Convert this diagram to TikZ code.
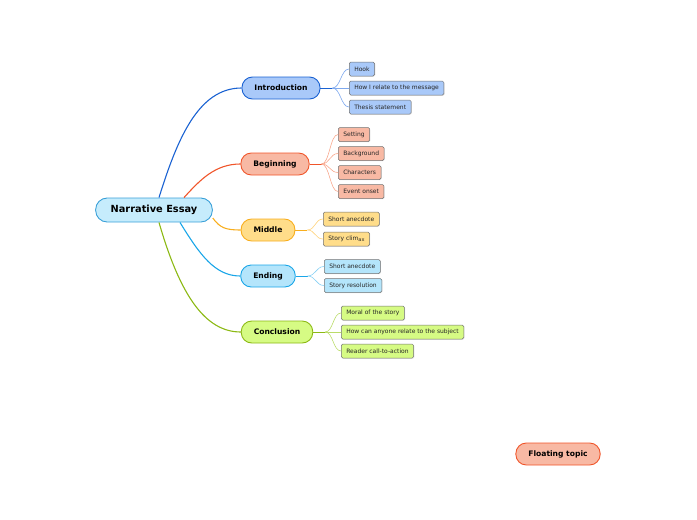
\documentclass[tikz,border=0pt]{standalone}
\usepackage{fontspec}
\setmainfont{DejaVu Sans}
\usetikzlibrary{shadows}
\definecolor{rootfill}{HTML}{C6ECFC}
\definecolor{rootline}{HTML}{3AA0D8}
\definecolor{introfill}{HTML}{A9C9F9}
\definecolor{introline}{HTML}{1A62D2}
\definecolor{introleaf}{HTML}{7FA9EE}
\definecolor{begfill}{HTML}{F8B9A4}
\definecolor{begline}{HTML}{F0552A}
\definecolor{begleaf}{HTML}{F8A88E}
\definecolor{midfill}{HTML}{FFDD8A}
\definecolor{midline}{HTML}{F8AE1E}
\definecolor{midleaf}{HTML}{FFD27A}
\definecolor{endfill}{HTML}{B4E5FB}
\definecolor{endline}{HTML}{1AA6E8}
\definecolor{endleaf}{HTML}{86D0F4}
\definecolor{confill}{HTML}{D6FB84}
\definecolor{conline}{HTML}{8CB914}
\definecolor{conleaf}{HTML}{BBDC6A}
\begin{document}
\begin{tikzpicture}[x=1pt,y=-1pt,
    topic/.style={draw, line width=0.9pt, rounded corners=10.5pt, minimum height=22pt,
        inner xsep=12.5pt, font=\bfseries\fontsize{7.6}{8}\selectfont},
    leaf/.style={draw=black!55, line width=0.5pt, rounded corners=1.5pt, minimum height=14pt,
        inner xsep=5pt, inner ysep=0pt, anchor=west, text=black!85,
        font=\fontsize{6}{6.5}\selectfont,
        drop shadow={shadow xshift=0.7pt, shadow yshift=-0.7pt, opacity=0.25}},
    branch/.style={line width=1.1pt},
    twig/.style={line width=0.6pt}]
            \useasboundingbox (0,0) rectangle (697,520);
            % Hauptthema
            \node[topic, draw=rootline, fill=rootfill, rounded corners=11.5pt, minimum height=24pt,
                inner xsep=15pt, font=\bfseries\fontsize{9.8}{10}\selectfont] (essay) at (154,210) {Narrative Essay};
            % Introduction
            \node[topic, draw=introline, fill=introfill] (intro) at (281,88) {Introduction};
            \node[leaf, fill=introfill] (hook) at (349,69) {Hook};
            \node[leaf, fill=introfill] (relate) at (349,88) {How I relate to the message};
            \node[leaf, fill=introfill] (thesis) at (349,107) {Thesis statement};
            % Beginning
            \node[topic, draw=begline, fill=begfill] (begin) at (275,164) {Beginning};
            \node[leaf, fill=begfill] (setting) at (338,134.5) {Setting};
            \node[leaf, fill=begfill] (backgr) at (338,153.5) {Background};
            \node[leaf, fill=begfill] (charac) at (338,172.5) {Characters};
            \node[leaf, fill=begfill] (onset) at (338,191.5) {Event onset};
            % Middle
            \node[topic, draw=midline, fill=midfill] (middle) at (268,230) {Middle};
            \node[leaf, fill=midfill] (anecmid) at (323,219) {Short anecdote};
            \node[leaf, fill=midfill] (climax) at (323,239) {Story clim\raisebox{-1.2pt}{\fontsize{5}{5}\selectfont ax}};
            % Ending
            \node[topic, draw=endline, fill=endfill] (ending) at (268,276) {Ending};
            \node[leaf, fill=endfill] (anecend) at (324,266.5) {Short anecdote};
            \node[leaf, fill=endfill] (resol) at (324,285.5) {Story resolution};
            % Conclusion
            \node[topic, draw=conline, fill=confill] (concl) at (277,332) {Conclusion};
            \node[leaf, fill=confill] (moral) at (341,313) {Moral of the story};
            \node[leaf, fill=confill] (anyone) at (341,332) {How can anyone relate to the subject};
            \node[leaf, fill=confill] (action) at (341,351) {Reader call-to-action};
            % Floating topic
            \node[topic, draw=begline, fill=begfill] (floating) at (558,454) {Floating topic};
            % Aeste
            \draw[branch, introline] ([xshift=5pt]essay.north) .. controls (177,140) and (198,88) .. (intro.west);
            \draw[branch, begline] ([xshift=30pt]essay.north) .. controls (200,180) and (215,164) .. (begin.west);
            \draw[branch, midline] ([yshift=-8pt]essay.east) .. controls (220,228) and (226,230) .. (middle.west);
            \draw[branch, endline] ([xshift=26pt]essay.south) .. controls (200,255) and (215,276) .. (ending.west);
            \draw[branch, conline] ([xshift=5pt]essay.south) .. controls (180,295) and (205,332) .. (concl.west);
            % Zweige Introduction
            \coordinate (introfork) at ([xshift=12pt]intro.east);
            \draw[twig, introline] (intro.east) -- (introfork);
            \draw[twig, introleaf] (introfork) .. controls +(8,0) and +(-8,0) .. (hook.west);
            \draw[twig, introleaf] (introfork) -- (relate.west);
            \draw[twig, introleaf] (introfork) .. controls +(8,0) and +(-8,0) .. (thesis.west);
            % Zweige Beginning
            \coordinate (begfork) at ([xshift=12pt]begin.east);
            \draw[twig, begline] (begin.east) -- (begfork);
            \draw[twig, begleaf] (begfork) .. controls +(8,0) and +(-8,0) .. (setting.west);
            \draw[twig, begleaf] (begfork) .. controls +(8,0) and +(-8,0) .. (backgr.west);
            \draw[twig, begleaf] (begfork) .. controls +(8,0) and +(-8,0) .. (charac.west);
            \draw[twig, begleaf] (begfork) .. controls +(8,0) and +(-8,0) .. (onset.west);
            % Zweige Middle
            \coordinate (midfork) at ([xshift=12pt]middle.east);
            \draw[twig, midline] (middle.east) -- (midfork);
            \draw[twig, midleaf] (midfork) .. controls +(8,0) and +(-8,0) .. (anecmid.west);
            \draw[twig, midleaf] (midfork) .. controls +(8,0) and +(-8,0) .. (climax.west);
            % Zweige Ending
            \coordinate (endfork) at ([xshift=12pt]ending.east);
            \draw[twig, endline] (ending.east) -- (endfork);
            \draw[twig, endleaf] (endfork) .. controls +(8,0) and +(-8,0) .. (anecend.west);
            \draw[twig, endleaf] (endfork) .. controls +(8,0) and +(-8,0) .. (resol.west);
            % Zweige Conclusion
            \coordinate (confork) at ([xshift=12pt]concl.east);
            \draw[twig, conline] (concl.east) -- (confork);
            \draw[twig, conleaf] (confork) .. controls +(8,0) and +(-8,0) .. (moral.west);
            \draw[twig, conleaf] (confork) -- (anyone.west);
            \draw[twig, conleaf] (confork) .. controls +(8,0) and +(-8,0) .. (action.west);
\end{tikzpicture}
\end{document}
